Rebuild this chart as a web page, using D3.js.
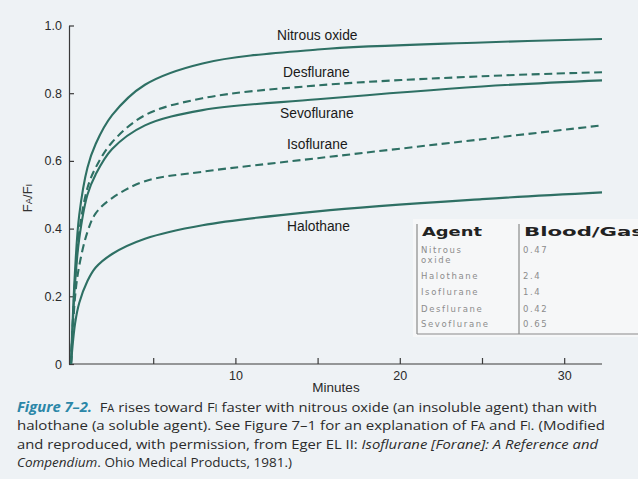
<!DOCTYPE html>
<html>
<head>
<meta charset="utf-8">
<script src="https://cdn.jsdelivr.net/npm/d3@7"></script>
<style>
  body { margin: 0; background: #eef2f5; }
  svg { display: block; }
</style>
</head>
<body>
<script>
// uptake curves: FA/FI against minutes, one array per agent
var minutes     = [0, 0.25, 0.5, 1, 1.5, 2.5, 4.5, 8, 15, 25, 32.3];
var nitrous     = [0, 0.28, 0.44, 0.58, 0.65, 0.735, 0.825, 0.888, 0.929, 0.95, 0.96];
var desflurane  = [0, 0.25, 0.39, 0.52, 0.58, 0.655, 0.735, 0.785, 0.823, 0.85, 0.862];
var sevoflurane = [0, 0.24, 0.37, 0.50, 0.56, 0.635, 0.705, 0.75, 0.782, 0.82, 0.838];
var isoflurane  = [0, 0.20, 0.29, 0.39, 0.445, 0.49, 0.54, 0.568, 0.608, 0.664, 0.705];
var halothane   = [0, 0.12, 0.18, 0.245, 0.285, 0.325, 0.37, 0.41, 0.451, 0.487, 0.507];

var seriesNames = ["Nitrous oxide", "Desflurane", "Sevoflurane", "Isoflurane", "Halothane"];
var seriesData  = [nitrous, desflurane, sevoflurane, isoflurane, halothane];
var dashed      = [false, true, false, true, false];

var yTicks = [0, 0.2, 0.4, 0.6, 0.8, 1.0];
var xTicks = [5, 10, 15, 20, 25, 30];
var xTickLabels = [10, 20, 30];

// inset table
var tableAgents = [["Nitrous", "oxide"], ["Halothane"], ["Isoflurane"], ["Desflurane"], ["Sevoflurane"]];
var tableCoefs  = ["0.47", "2.4", "1.4", "0.42", "0.65"];

var width = 638, height = 479;
var lineColor = "#2e7064";
var labelFont = "'Liberation Sans', Arial, sans-serif";

var svg = d3.select("body").append("svg")
  .attr("width", width)
  .attr("height", height);

var xScale = d3.scaleLinear().domain([0, 32.3]).range([71, 602]);
var yScale = d3.scaleLinear().domain([0, 1]).range([364, 25.5]);

// axes
var axisColor = "#3a3a3a";
var leftAxis = d3.axisLeft(yScale)
  .tickValues(yTicks)
  .tickSizeInner(-5)
  .tickSizeOuter(0)
  .tickPadding(7)
  .tickFormat(d => d === 0 ? "0" : d3.format(".1f")(d));

var gy = svg.append("g")
  .attr("transform", `translate(${xScale(0) - 2},0)`)
  .call(leftAxis);

var bottomAxis = d3.axisBottom(xScale)
  .tickValues(xTicks)
  .tickSizeInner(-6)
  .tickSizeOuter(0)
  .tickPadding(7)
  .tickFormat(d => xTickLabels.indexOf(d) >= 0 ? d : "");

var gx = svg.append("g")
  .attr("transform", `translate(0,${yScale(0)})`)
  .call(bottomAxis);

[gx, gy].forEach(function(g) {
  g.selectAll("path, line").attr("stroke", axisColor).attr("stroke-width", 1.2);
  g.selectAll("text")
    .attr("fill", "#2a2a2a")
    .attr("font-family", labelFont)
    .attr("font-size", "12.5px");
});
gx.select(".domain").attr("d", `M${xScale(0) - 2},0H${xScale(32.3)}`);

// y axis title  FA/FI
var yTitle = svg.append("text")
  .attr("transform", "translate(32,198) rotate(-90)")
  .attr("text-anchor", "middle")
  .attr("fill", "#333")
  .attr("font-family", labelFont)
  .attr("font-size", "13px");
yTitle.append("tspan").text("F");
yTitle.append("tspan").attr("font-size", "9.5px").text("A");
yTitle.append("tspan").text("/F");
yTitle.append("tspan").attr("font-size", "9.5px").text("I");

svg.append("text")
  .attr("x", 336)
  .attr("y", 392)
  .attr("text-anchor", "middle")
  .attr("fill", "#2a2a2a")
  .attr("font-family", labelFont)
  .attr("font-size", "13.5px")
  .text("Minutes");

// curves
var line = d3.line()
  .x((d, i) => xScale(minutes[i]))
  .y(d => yScale(d))
  .curve(d3.curveCatmullRom.alpha(0.5));

svg.selectAll(".curve")
  .data(seriesData)
  .enter()
  .append("path")
    .attr("class", "curve")
    .attr("d", line)
    .attr("fill", "none")
    .attr("stroke", lineColor)
    .attr("stroke-width", 2.1)
    .attr("stroke-dasharray", (d, i) => dashed[i] ? "8,4.5" : null);

// curve labels
var labelPos = [[277, 40], [283, 77], [280, 118], [287, 149], [287, 231]];
svg.selectAll(".clabel")
  .data(seriesNames)
  .enter()
  .append("text")
    .attr("class", "clabel")
    .attr("x", (d, i) => labelPos[i][0])
    .attr("y", (d, i) => labelPos[i][1])
    .attr("fill", "#1a1a1a")
    .attr("font-family", labelFont)
    .attr("font-size", "13.8px")
    .text(d => d);

// inset table
var table = svg.append("g");
table.append("rect")
  .attr("x", 413).attr("y", 219)
  .attr("width", 230).attr("height", 118)
  .attr("fill", "#f6f7f8");
table.append("line")
  .attr("x1", 417).attr("x2", 417).attr("y1", 224).attr("y2", 334)
  .attr("stroke", "#8a8a8a").attr("stroke-width", 1.2);
table.append("line")
  .attr("x1", 519).attr("x2", 519).attr("y1", 224).attr("y2", 334)
  .attr("stroke", "#8a8a8a").attr("stroke-width", 1.2);
table.append("line")
  .attr("x1", 417).attr("x2", 640).attr("y1", 334).attr("y2", 334)
  .attr("stroke", "#8a8a8a").attr("stroke-width", 1.2);

table.append("text")
  .attr("x", 422).attr("y", 236)
  .attr("font-family", "'DejaVu Sans', Verdana, sans-serif")
  .attr("font-weight", "bold")
  .attr("font-size", "12px")
  .attr("fill", "#222")
  .attr("textLength", 60)
  .attr("lengthAdjust", "spacingAndGlyphs")
  .text("Agent");
table.append("text")
  .attr("x", 524).attr("y", 236)
  .attr("font-family", "'DejaVu Sans', Verdana, sans-serif")
  .attr("font-weight", "bold")
  .attr("font-size", "12px")
  .attr("fill", "#222")
  .attr("textLength", 120)
  .attr("lengthAdjust", "spacingAndGlyphs")
  .text("Blood/Gas");

var rowY = [253, 279, 295, 312, 327];
tableAgents.forEach(function(lines, i) {
  lines.forEach(function(t, j) {
    table.append("text")
      .attr("x", 421).attr("y", rowY[i] + j * 10)
      .attr("font-family", "'DejaVu Sans', Verdana, sans-serif")
      .attr("font-size", "8.5px")
      .attr("letter-spacing", "1.6px")
      .attr("fill", "#8c8c8c")
      .text(t);
  });
  table.append("text")
    .attr("x", 523).attr("y", rowY[i])
    .attr("font-family", "'DejaVu Sans', Verdana, sans-serif")
    .attr("font-size", "8.5px")
    .attr("letter-spacing", "1.6px")
    .attr("fill", "#8c8c8c")
    .text(tableCoefs[i]);
});

// caption
var capFont = "'Open Sans', 'Noto Sans', sans-serif";
var capLines = [
  [["Figure 7–2.", "fig"], ["  F", ""], ["A", "sc"], [" rises toward F", ""], ["I", "sc"], [" faster with nitrous oxide (an insoluble agent) than with", ""]],
  [["halothane (a soluble agent). See Figure 7–1 for an explanation of F", ""], ["A", "sc"], [" and F", ""], ["I", "sc"], [". (Modified", ""]],
  [["and reproduced, with permission, from Eger EL II: ", ""], ["Isoflurane [Forane]: A Reference and", "it"]],
  [["Compendium", "it"], [". Ohio Medical Products, 1981.)", ""]]
];
var capWidths = [580, 588, 581, null];

capLines.forEach(function(parts, i) {
  var t = svg.append("text")
    .attr("x", 17)
    .attr("y", 412 + i * 18.3)
    .attr("font-family", capFont)
    .attr("font-size", "13.5px")
    .attr("fill", "#2b2b2b")
    .attr("xml:space", "preserve");
  if (capWidths[i]) t.attr("textLength", capWidths[i]).attr("lengthAdjust", "spacingAndGlyphs");
  parts.forEach(function(p) {
    var s = t.append("tspan").text(p[0]);
    if (p[1] === "fig") s.attr("font-weight", "bold").attr("font-style", "italic").attr("fill", "#2b87a8");
    if (p[1] === "sc") s.attr("font-size", "10px");
    if (p[1] === "it") s.attr("font-style", "italic");
  });
});
</script>
</body>
</html>
